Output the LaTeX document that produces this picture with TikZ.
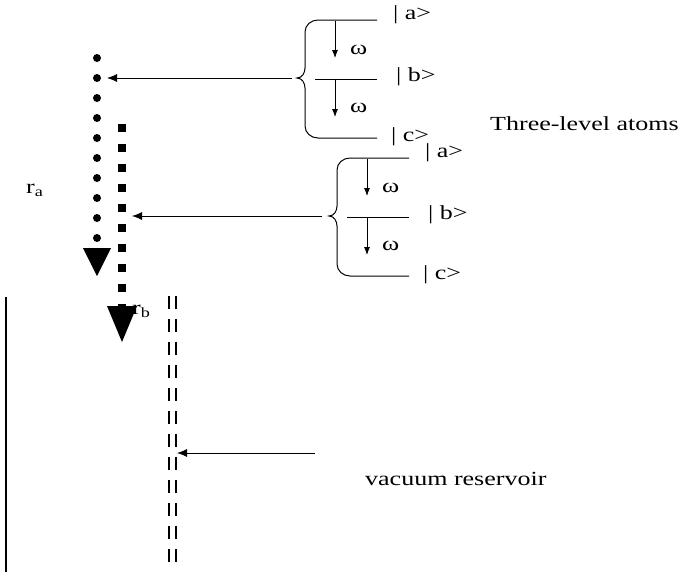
\documentclass[tikz,border=0pt]{standalone}
\usepackage{fontspec}
\setmainfont{Liberation Serif}
\usetikzlibrary{arrows.meta}
\newcommand\wtxt[1]{\scalebox{1.3}[1]{#1}}
\begin{document}
\begin{tikzpicture}[x=1pt,y=-1pt,
  lvl/.style={line width=1pt},
  thin/.style={line width=0.8pt,-{Latex[length=8pt,width=6pt]}},
  tr/.style={line width=0.8pt,-{Latex[length=10pt,width=8pt]}},
  lab/.style={font=\fontsize{20}{22}\selectfont,anchor=west,inner sep=0pt}]
\useasboundingbox (0,0) rectangle (685,579);
% dotted beam a
\draw[line width=8pt,line cap=round,dash pattern=on 0pt off 20pt] (97,58) -- (97,245);
\fill (83,248) -- (111,248) -- (97,276) -- cycle;
% square beam b
\draw[line width=8pt,dash pattern=on 8pt off 12pt] (122,124) -- (122,312);
\fill (107,306) -- (137,306) -- (122,342) -- cycle;
\node[lab] (ra) at (26,190) {\wtxt{r\textsubscript{a}}};
\node[lab] (rb) at (132,311) {\wtxt{r\textsubscript{b}}};
% walls
\draw[line width=2.5pt] (6,297) -- (6,572);
\draw[line width=2.5pt,dash pattern=on 13pt off 10pt] (169,296) -- (169,566);
\draw[line width=2.5pt,dash pattern=on 13pt off 10pt] (176,296) -- (176,566);
\coordinate (w) at (177,453);
\coordinate (ws) at (315,453);
\draw[tr] (ws) -- (w);
\node[lab] (vr) at (365,479) {\wtxt{vacuum reservoir}};
\node[lab] (tla) at (490,124) {\wtxt{Three-level atoms}};
% level schemes
\foreach \dx/\dy in {0/0, 32/138}{
\begin{scope}[shift={(\dx,\dy)}]
\draw[lvl] (377,20) -- (318,20) to[out=180,in=90] (305,32) -- (305,68) to[out=270,in=0] (297,78)
  to[out=0,in=90] (305,88) -- (305,126) to[out=270,in=180] (318,138) -- (377,138);
\draw[lvl] (315,79) -- (377,79);
\draw[thin] (335,21) -- (335,58);
\draw[thin] (335,80) -- (335,117);
\node[lab] at (350,50) {\wtxt{ω}};
\node[lab] at (350,108) {\wtxt{ω}};
\node[lab] at (393,15) {\wtxt{| a>}};
\node[lab] at (396,77) {\wtxt{| b>}};
\node[lab] at (391,137) {\wtxt{| c>}};
\end{scope}}
\coordinate (s1) at (292,78); \coordinate (t1) at (107,78);
\coordinate (s2) at (322,216); \coordinate (t2) at (132,216);
\draw[tr] (s1) -- (t1);
\draw[tr] (s2) -- (t2);
\end{tikzpicture}
\end{document}
